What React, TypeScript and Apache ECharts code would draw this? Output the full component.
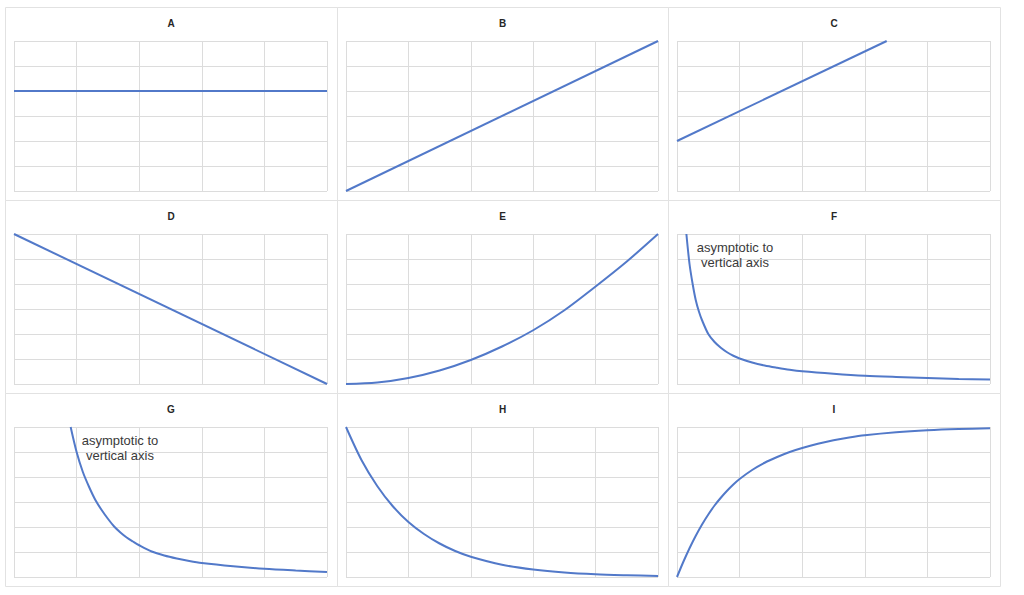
import React, { useEffect, useRef } from "react";
import * as echarts from "echarts";

// ---- data ----
const panelTitles = ["A", "B", "C", "D", "E", "F", "G", "H", "I"];
const xRange = [0, 5];
const yRange = [0, 6];
const xInterval = 1;
const yInterval = 1;

const seriesA = [[0, 4], [5, 4]];
const seriesB = [[0, 0], [5, 6]];
const seriesC = [[0, 2], [3.35, 6]];
const seriesD = [[0, 6], [5, 0]];
const seriesE = [
  [0, 0], [0.5, 0.06], [1, 0.24], [1.5, 0.54], [2, 0.96], [2.5, 1.5],
  [3, 2.15], [3.5, 2.95], [4, 3.9], [4.5, 4.9], [5, 6],
];
const seriesF = [
  [0.15, 6], [0.2, 4.8], [0.25, 4.0], [0.3, 3.35], [0.35, 2.9], [0.4, 2.55],
  [0.5, 2.0], [0.6, 1.68], [0.7, 1.45], [0.8, 1.27], [0.9, 1.13], [1.0, 1.02],
  [1.2, 0.86], [1.4, 0.74], [1.6, 0.65], [1.8, 0.57], [2.0, 0.51], [2.5, 0.41],
  [3, 0.33], [3.5, 0.28], [4, 0.24], [4.5, 0.2], [5, 0.18],
];
const seriesG = [
  [0.905, 6], [1.0, 5.0], [1.1, 4.2], [1.2, 3.6], [1.3, 3.08], [1.4, 2.68],
  [1.5, 2.33], [1.6, 2.02], [1.7, 1.78], [1.8, 1.58], [1.9, 1.42], [2.0, 1.27],
  [2.2, 1.02], [2.4, 0.86], [2.6, 0.74], [2.8, 0.64], [3.0, 0.56], [3.5, 0.43],
  [4.0, 0.33], [4.5, 0.26], [5.0, 0.2],
];
const seriesH = [
  [0, 6], [0.25, 4.67], [0.5, 3.64], [0.75, 2.83], [1, 2.2], [1.25, 1.72],
  [1.5, 1.34], [1.75, 1.04], [2, 0.81], [2.5, 0.49], [3, 0.3], [3.5, 0.18],
  [4, 0.11], [4.5, 0.07], [5, 0.04],
];
const seriesI = [
  [0, 0], [0.1, 0.6], [0.2, 1.15], [0.3, 1.65], [0.4, 2.1], [0.5, 2.5],
  [0.6, 2.86], [0.7, 3.17], [0.8, 3.45], [0.9, 3.7], [1.0, 3.92], [1.2, 4.28],
  [1.4, 4.57], [1.6, 4.8], [1.8, 5.0], [2.0, 5.16], [2.25, 5.33], [2.5, 5.47],
  [2.75, 5.58], [3, 5.67], [3.5, 5.79], [4, 5.87], [4.5, 5.92], [5, 5.95],
];
const allSeries = [seriesA, seriesB, seriesC, seriesD, seriesE, seriesF, seriesG, seriesH, seriesI];
const smoothFlags = [false, false, false, false, true, true, true, true, true];
const annotationText = "asymptotic to\nvertical axis";
const annotatedPanels = ["F", "G"];

// ---- layout ----
const colX = [5, 337, 668];
const colW = [332, 331, 332];
const rowY = [7, 200, 393];
const rowH = 193;
const lineColor = "#5279c9";
const gridColor = "#dcdcdc";
const borderColor = "#e2e2e2";
const annotationPos: Record<string, [number, number]> = {
  F: [735, 240],
  G: [120, 433],
};

export default function App() {
  const ref = useRef<HTMLDivElement>(null);
  useEffect(() => {
    document.body.style.margin = "0";
    if (!ref.current) return;
    const chart = echarts.init(ref.current, undefined, { renderer: "svg" });

    const grids: any[] = [];
    const xAxes: any[] = [];
    const yAxes: any[] = [];
    const series: any[] = [];
    const graphics: any[] = [];

    panelTitles.forEach((t, i) => {
      const c = i % 3;
      const r = Math.floor(i / 3);
      const x0 = colX[c];
      const y0 = rowY[r];
      const w = colW[c];
      grids.push({ left: x0 + 9, top: y0 + 34, width: w - 19, height: rowH - 43 });
      xAxes.push({
        type: "value", gridIndex: i, min: xRange[0], max: xRange[1], interval: xInterval,
        axisLine: { show: false }, axisTick: { show: false }, axisLabel: { show: false },
        splitLine: { show: true, lineStyle: { color: gridColor, width: 1 } },
      });
      yAxes.push({
        type: "value", gridIndex: i, min: yRange[0], max: yRange[1], interval: yInterval,
        axisLine: { show: false }, axisTick: { show: false }, axisLabel: { show: false },
        splitLine: { show: true, lineStyle: { color: gridColor, width: 1 } },
      });
      series.push({
        type: "line", name: t, xAxisIndex: i, yAxisIndex: i, data: allSeries[i],
        smooth: smoothFlags[i] ? 0.3 : false, showSymbol: false, symbol: "none",
        lineStyle: { color: lineColor, width: 2 }, itemStyle: { color: lineColor },
        clip: true,
      });
      graphics.push({
        type: "rect", shape: { x: x0 + 0.5, y: y0 + 0.5, width: w, height: rowH },
        style: { fill: "none", stroke: borderColor, lineWidth: 1 }, silent: true, z: -1,
      });
      graphics.push({
        type: "text", x: x0 + w / 2, y: y0 + 16,
        style: {
          text: t, textAlign: "center", textVerticalAlign: "middle",
          font: "bold 10px 'Liberation Sans', Arial, sans-serif", fill: "#262626",
        },
      });
      if (annotatedPanels.includes(t)) {
        const [ax, ay] = annotationPos[t];
        graphics.push({
          type: "text", x: ax, y: ay, z: 10,
          style: {
            text: annotationText, textAlign: "center", textVerticalAlign: "top",
            font: "13px 'Liberation Sans', Arial, sans-serif", fill: "#3a3a3a", lineHeight: 15,
          },
        });
      }
    });

    chart.setOption({
      animation: false,
      backgroundColor: "#ffffff",
      grid: grids,
      xAxis: xAxes,
      yAxis: yAxes,
      series,
      graphic: graphics,
    });
    return () => chart.dispose();
  }, []);
  return (
    <div
      ref={ref}
      style={{ position: "absolute", left: 0, top: 0, width: 1024, height: 595, background: "#fff" }}
    />
  );
}
